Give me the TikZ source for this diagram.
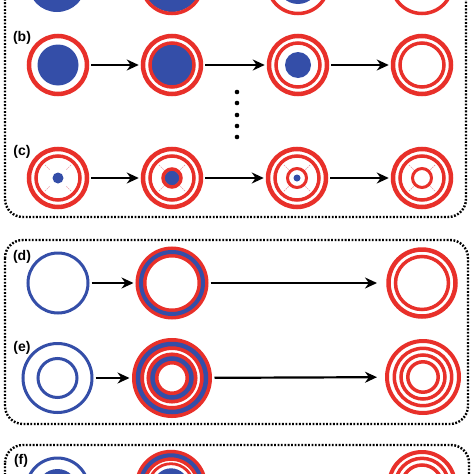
\documentclass[tikz,border=0pt]{standalone}
\usepackage{fontspec}
\setsansfont{Liberation Sans}
\usetikzlibrary{arrows.meta}
\definecolor{ringred}{RGB}{232,48,42}
\definecolor{ringblue}{RGB}{52,78,168}
\definecolor{tracepink}{RGB}{232,150,160}
\tikzstyle{spot}=[circle,inner sep=0pt,outer sep=2pt]
\tikzstyle{outring}=[draw=ringred,line width=4.5pt]
\tikzstyle{inring}=[draw=ringred,line width=3.5pt]
\tikzstyle{bluering}=[draw=ringblue,line width=3pt]
\tikzstyle{redband}=[draw=ringred,line width=12pt]
\tikzstyle{blueband}=[draw=ringblue,line width=4.5pt]
\tikzstyle{core}=[fill=ringblue]
\tikzstyle{trace}=[draw=tracepink,line width=0.7pt,dash pattern=on 1.5pt off 1pt]
\tikzstyle{arr}=[-{Stealth[length=12pt,width=11pt]},line width=2.2pt]
\tikzstyle{frame}=[line width=2.4pt,dash pattern=on 1.8pt off 1.6pt,rounded corners=18pt]
\tikzstyle{lab}=[font=\sffamily\bfseries\fontsize{14}{14}\selectfont,inner sep=0pt]

\begin{document}
\begin{tikzpicture}[x=1pt,y=-1pt]
\useasboundingbox (0,0) rectangle (474,474);
\clip (0,0) rectangle (474,474);

\draw[frame] (5,-60) rectangle (466,217);
\draw[frame] (5,240) rectangle (468,424);
\draw[frame] (5,445) rectangle (469,540);

\node[spot,minimum size=64pt] (a1) at (57,-17) {};
\node[spot,minimum size=64pt] (a2) at (172,-17) {};
\node[spot,minimum size=64pt] (a3) at (298,-17) {};
\node[spot,minimum size=64pt] (a4) at (422,-17) {};
\fill[core] (a1.center) circle (29pt);
\fill[core] (a2.center) circle (29pt);
\draw[inring] (a2.center) circle (30.5pt);
\fill[core] (a3.center) circle (21pt);
\draw[inring] (a3.center) circle (30.5pt);
\draw[inring] (a4.center) circle (30.5pt);

\node[lab] (lb) at (22,38) {(b)};
\node[spot,minimum size=62.5pt] (b1) at (58,65) {};
\node[spot,minimum size=62.5pt] (b2) at (172,65) {};
\node[spot,minimum size=62.5pt] (b3) at (298,65) {};
\node[spot,minimum size=62.5pt] (b4) at (422,65) {};
\fill[core] (b1.center) circle (20.5pt);
\draw[outring] (b1.center) circle (29pt);
\fill[core] (b2.center) circle (21pt);
\draw[outring] (b2.center) circle (29pt);
\draw[inring] (b2.center) circle (22pt);
\fill[core] (b3.center) circle (13pt);
\draw[outring] (b3.center) circle (29pt);
\draw[inring] (b3.center) circle (22pt);
\draw[outring] (b4.center) circle (29pt);
\draw[inring] (b4.center) circle (22pt);
\draw[arr] (b1) -- (b2);
\draw[arr] (b2) -- (b3);
\draw[arr] (b3) -- (b4);

\fill (237,92) circle (2.3pt);
\fill (237,103) circle (2.3pt);
\fill (237,115) circle (2.3pt);
\fill (237,126) circle (2.3pt);
\fill (237,137) circle (2.3pt);

\node[lab] (lc) at (22,152) {(c)};
\node[spot,minimum size=62.5pt] (c1) at (58,178) {};
\node[spot,minimum size=62.5pt] (c2) at (172,178) {};
\node[spot,minimum size=62.5pt] (c3) at (297,178) {};
\node[spot,minimum size=62.5pt] (c4) at (422,178) {};
\draw[trace] (c1.center) ++(45:12pt) -- ++(45:6.5pt);
\draw[trace] (c1.center) ++(135:12pt) -- ++(135:6.5pt);
\draw[trace] (c1.center) ++(225:12pt) -- ++(225:6.5pt);
\draw[trace] (c1.center) ++(315:12pt) -- ++(315:6.5pt);
\draw[trace] (c2.center) ++(45:12pt) -- ++(45:6.5pt);
\draw[trace] (c2.center) ++(135:12pt) -- ++(135:6.5pt);
\draw[trace] (c2.center) ++(225:12pt) -- ++(225:6.5pt);
\draw[trace] (c2.center) ++(315:12pt) -- ++(315:6.5pt);
\draw[trace] (c3.center) ++(45:12pt) -- ++(45:6.5pt);
\draw[trace] (c3.center) ++(135:12pt) -- ++(135:6.5pt);
\draw[trace] (c3.center) ++(225:12pt) -- ++(225:6.5pt);
\draw[trace] (c3.center) ++(315:12pt) -- ++(315:6.5pt);
\draw[trace] (c4.center) ++(45:12pt) -- ++(45:6.5pt);
\draw[trace] (c4.center) ++(135:12pt) -- ++(135:6.5pt);
\draw[trace] (c4.center) ++(225:12pt) -- ++(225:6.5pt);
\draw[trace] (c4.center) ++(315:12pt) -- ++(315:6.5pt);
\fill[core] (c1.center) circle (5.5pt);
\draw[outring] (c1.center) circle (29pt);
\draw[inring] (c1.center) circle (22pt);
\fill[core] (c2.center) circle (7.5pt);
\draw[inring] (c2.center) circle (9pt);
\draw[outring] (c2.center) circle (29pt);
\draw[inring] (c2.center) circle (22pt);
\fill[core] (c3.center) circle (3.5pt);
\draw[ringred,line width=3pt] (c3.center) circle (9.5pt);
\draw[outring] (c3.center) circle (29pt);
\draw[inring] (c3.center) circle (22pt);
\draw[ringred,line width=3pt] (c4.center) circle (9.5pt);
\draw[outring] (c4.center) circle (29pt);
\draw[inring] (c4.center) circle (22pt);
\draw[arr] (c1) -- (c2);
\draw[arr] (c2) -- (c3);
\draw[arr] (c3) -- (c4);

\node[lab] (ld) at (22,257) {(d)};
\node[spot,minimum size=63pt] (d1) at (58,283) {};
\node[spot,minimum size=73pt] (d2) at (172,283) {};
\node[spot,minimum size=72pt] (d3) at (422,283) {};
\draw[bluering] (d1.center) circle (30pt);
\draw[redband,line width=11pt] (d2.center) circle (31pt);
\draw[blueband,line width=4pt] (d2.center) circle (31pt);
\draw[outring] (d3.center) circle (33.5pt);
\draw[inring] (d3.center) circle (26.5pt);
\draw[arr] (d1) -- (d2);
\draw[arr,shorten >=7pt] (d2) -- (d3);

\node[lab] (le) at (22,348) {(e)};
\node[spot,minimum size=72pt] (e1) at (57.5,378) {};
\node[spot,minimum size=81pt] (e2) at (172,378) {};
\node[spot,minimum size=76pt] (e3) at (423,377) {};
\draw[bluering] (e1.center) circle (34.5pt);
\draw[bluering] (e1.center) circle (19.5pt);
\draw[redband] (e2.center) circle (34pt);
\draw[blueband] (e2.center) circle (34pt);
\draw[redband] (e2.center) circle (19.5pt);
\draw[blueband] (e2.center) circle (19.5pt);
\draw[ringred,line width=4pt] (e3.center) circle (36pt);
\draw[inring] (e3.center) circle (28.7pt);
\draw[inring] (e3.center) circle (22pt);
\draw[inring] (e3.center) circle (15.2pt);
\draw[arr] (e1) -- (e2);
\draw[arr,shorten >=6pt] (e2) -- (e3);

\node[lab] (lf) at (21,461) {(f)};
\node[spot,minimum size=65pt] (f1) at (57.5,489) {};
\node[spot,minimum size=73pt] (f2) at (171,486) {};
\node[spot,minimum size=70pt] (f3) at (422,485) {};
\draw[bluering] (f1.center) circle (31pt);
\fill[core] (f1.center) circle (20pt);
\draw[redband,line width=11pt] (f2.center) circle (30.7pt);
\draw[blueband,line width=4pt] (f2.center) circle (30.7pt);
\draw[ringred,line width=2.8pt] (f2.center) circle (22.3pt);
\fill[core] (f2.center) circle (17.7pt);
\draw[outring,line width=4pt] (f3.center) circle (33pt);
\draw[inring] (f3.center) circle (26.7pt);
\draw[inring] (f3.center) circle (20pt);
\end{tikzpicture}
\end{document}
